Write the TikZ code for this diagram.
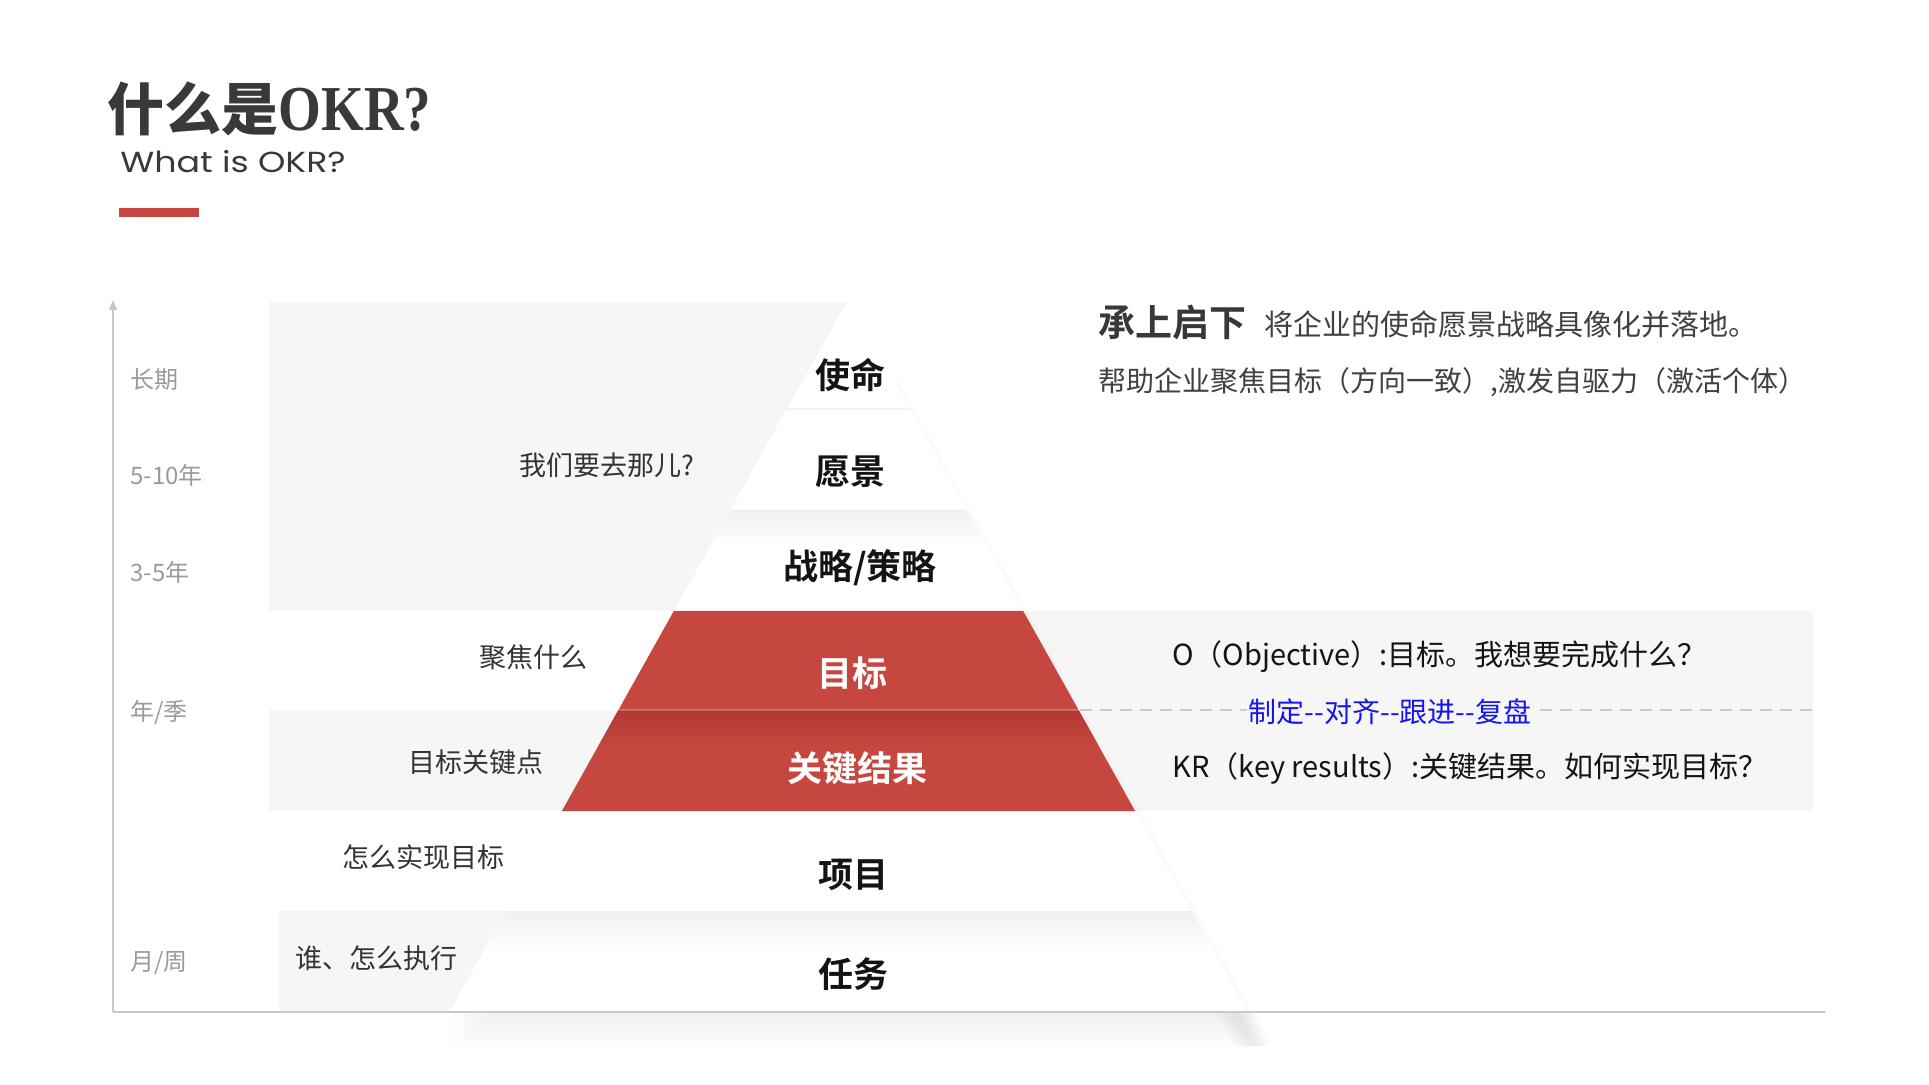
\documentclass[tikz,border=0pt]{standalone}
\usepackage{fontspec}
\setmainfont{Noto Sans CJK SC}[BoldFont={Noto Sans CJK SC Bold}]
\newfontfamily\titlecjk{Noto Sans CJK SC Black}
\newfontfamily\titleserif{Liberation Serif}
\newfontfamily\popfont{Poppins}
\usetikzlibrary{arrows.meta}
\definecolor{okrred}{HTML}{C5473F}
\definecolor{okrdark}{HTML}{B13833}
\definecolor{bandgray}{HTML}{F6F6F6}
\definecolor{axisgray}{HTML}{C8C8C8}
\definecolor{labgray}{HTML}{9A9A9A}
\definecolor{txtdark}{HTML}{333333}
\definecolor{titlecol}{HTML}{3B3838}
\definecolor{okrblue}{HTML}{1414F0}
\begin{document}
\begin{tikzpicture}[x=0.5pt,y=-0.5pt,
  sidelab/.style={anchor=west, inner sep=0, font=\fontsize{12}{14}\selectfont, text=labgray},
  midlab/.style={anchor=west, inner sep=0, font=\fontsize{13.5}{16}\selectfont, text=txtdark},
  pyrlab/.style={inner sep=0, font=\fontsize{17.5}{20}\selectfont\bfseries, text=black!92},
  redlab/.style={pyrlab, text=white},
  desc/.style={anchor=west, inner sep=0, font=\fontsize{14.5}{16}\selectfont, text=black!92},
  band/.style={fill=bandgray},
  axisline/.style={draw=axisgray, line width=1pt},
  shadowline/.style={draw=black, opacity=0.016, line cap=butt}
]
\useasboundingbox (0,0) rectangle (1929,1085);
\fill[white] (0,0) rectangle (1929,1085);

% title
\node[anchor=base west, inner sep=0, text=titlecol] (title) at (107,131)
  {\titlecjk\fontsize{28.5}{30}\selectfont 什么是\titleserif\bfseries\fontsize{32}{34}\selectfont\scalebox{0.86}[1]{OKR?}};
\node[anchor=base west, inner sep=0, text=titlecol] (subtitle) at (120,173)
  {\popfont\fontsize{14.5}{16}\selectfont\scalebox{1.2}[1]{What is OKR?}};
\fill[okrred] (119,208) rectangle (199,217);

% gray bands
\fill[band] (269,302) rectangle (850,611);
\fill[band] (848,611) rectangle (1813,811);
\fill[band] (269,710) rectangle (850,811);
\fill[band] (279,911) rectangle (850,1012);

% soft shadow under pyramid bottom
\foreach \i in {0,...,6}{
  \fill[black, opacity=0.009] (452+\i*6,1013) rectangle (1262-\i*4,1050-\i*5);
}

% right edge soft shadow
\coordinate (apex) at (848.5,299);
\coordinate (bl) at (449.5,1012);
\coordinate (br) at (1247.5,1012);
\begin{scope}
  \clip (840,380) rectangle (1300,1045);
  \foreach \w in {16,12,8,4}{
    \draw[shadowline, line width=\w pt] (868,360) -- (1256,1050);
  }
\end{scope}

% pyramid body
\fill[white] (apex) -- (br) -- (bl) -- cycle;
% red section
\fill[okrred] (673.8,611) -- (1023.2,611) -- (1135.1,811) -- (561.9,811) -- cycle;

% inner shadows
\begin{scope}
  \clip (730.5,510) -- (966.5,510) -- (1023.2,611) -- (673.8,611) -- cycle;
  \shade[top color=black!6, bottom color=white] (600,510) rectangle (1100,545);
\end{scope}
\begin{scope}
  \clip (505.9,911) -- (1191.1,911) -- (1247.5,1012) -- (449.5,1012) -- cycle;
  \shade[top color=black!6, bottom color=white] (400,911) rectangle (1300,950);
\end{scope}
\begin{scope}
  \clip (618.5,710) -- (1078.5,710) -- (1135.1,811) -- (561.9,811) -- cycle;
  \shade[top color=okrdark, bottom color=okrred] (500,710) rectangle (1200,745);
\end{scope}
\draw[black!5, line width=0.8pt] (786.9,409) -- (910.1,409);
\draw[white, opacity=0.25, line width=0.8pt] (618.5,710) -- (1078.5,710);

% dashed separator
\coordinate (dashL) at (1080,710);
\coordinate (dashR) at (1813,710);
\draw[black!20, line width=0.7pt, dash pattern=on 6pt off 4pt] (dashL) -- (dashR);

% axis
\coordinate (origin) at (113,1012);
\coordinate (ytop) at (113,300);
\coordinate (xend) at (1825,1012);
\draw[axisline, -{Triangle[length=5pt,width=4pt]}] (origin) -- (ytop);
\draw[axisline] (origin) -- (xend);

% side labels
\node[sidelab] (l1) at (130,379) {长期};
\node[sidelab] (l2) at (130,475) {5-10年};
\node[sidelab] (l3) at (130,572) {3-5年};
\node[sidelab] (l4) at (130,713) {年/季};
\node[sidelab] (l5) at (130,963) {月/周};

% middle labels
\node[midlab] (m1) at (519,465) {我们要去那儿?};
\node[midlab] (m2) at (479,657) {聚焦什么};
\node[midlab] (m3) at (408,762) {目标关键点};
\node[midlab] (m4) at (342,857) {怎么实现目标};
\node[midlab] (m5) at (295,958) {谁、怎么执行};

% pyramid labels
\node[pyrlab] (p1) at (850,375) {使命};
\node[pyrlab] (p2) at (850,472) {愿景};
\node[pyrlab] (p3) at (860,568) {战略/策略};
\node[redlab] (p4) at (852,673) {目标};
\node[redlab] (p5) at (857,768) {关键结果};
\node[pyrlab] (p6) at (853,875) {项目};
\node[pyrlab] (p7) at (853,974) {任务};

% right descriptions
\node[anchor=west, inner sep=0, text=black!78, font=\fontsize{18.5}{20}\selectfont\bfseries] (h1) at (1098,322) {承上启下};
\node[anchor=west, inner sep=0, text=black!75, font=\fontsize{14.5}{16}\selectfont] (h2) at (1264,324) {将企业的使命愿景战略具像化并落地。};
\node[anchor=west, inner sep=0, text=black!75, font=\fontsize{14}{16}\selectfont] (h3) at (1098,382) {帮助企业聚焦目标（方向一致）,激发自驱力（激活个体）};

\node[desc] (o) at (1172,657) {O（Objective）:目标。我想要完成什么？};
\node[desc] (kr) at (1172,768) {KR（key results）:关键结果。如何实现目标？};
\node[inner sep=1pt, fill=bandgray, text=okrblue, font=\fontsize{14}{16}\selectfont] (cyc) at (1390,712) {制定-{}-对齐-{}-跟进-{}-复盘};
\end{tikzpicture}
\end{document}
